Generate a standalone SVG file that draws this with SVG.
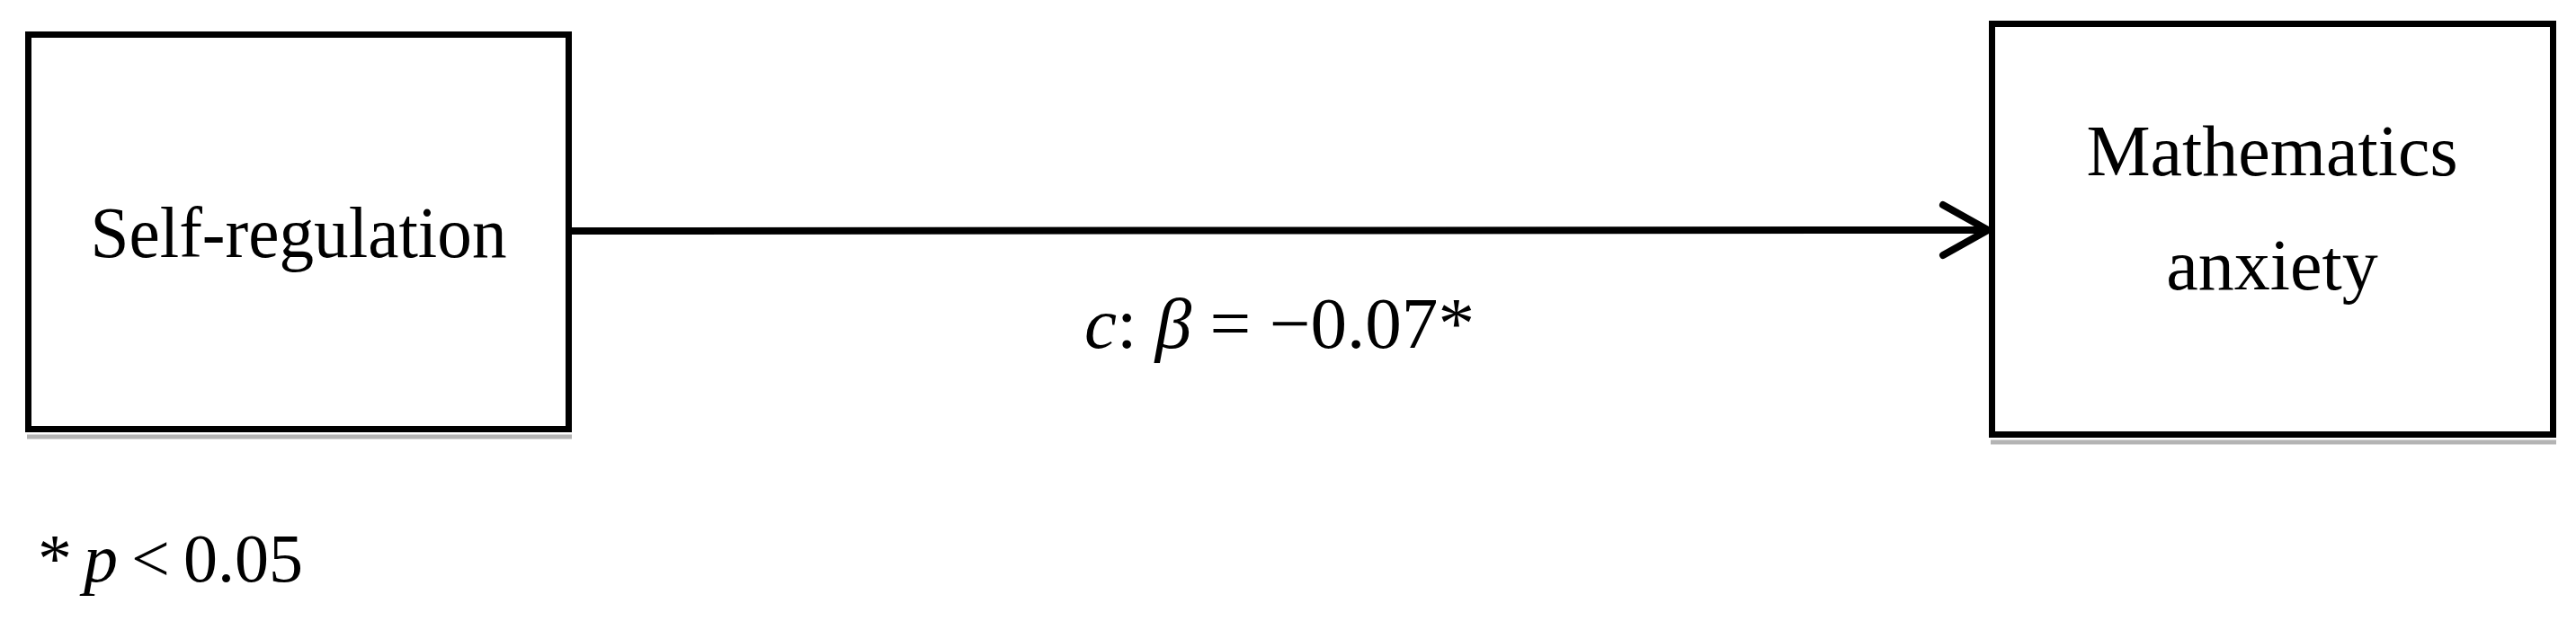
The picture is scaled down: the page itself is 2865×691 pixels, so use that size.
<svg xmlns="http://www.w3.org/2000/svg" width="2865" height="691" viewBox="0 0 2865 691">
<style>
.box{fill:#fff;stroke:#000;stroke-width:7}
.shadow{stroke:#b4b4b4;stroke-width:5}
.t{font-family:"Liberation Serif","Times New Roman",serif;font-size:80px;fill:#000}
.n{font-family:"Liberation Serif","Times New Roman",serif;font-size:76px;fill:#000}
.i{font-style:italic}
.edge{stroke:#000;stroke-width:8;fill:none}
</style>
<defs>
<marker id="arr" markerUnits="userSpaceOnUse" markerWidth="70" markerHeight="80" refX="60" refY="40" orient="auto">
<path d="M10,12 L60,40 L10,68" fill="none" stroke="#000" stroke-width="8" stroke-linecap="round" stroke-linejoin="miter"/>
</marker>
</defs>
<rect width="2865" height="691" fill="#fff"/>
<g id="connectors">
<line class="edge" x1="636" y1="257" x2="2211" y2="256" marker-end="url(#arr)"/>
<text class="t" x="1206" y="387" textLength="434" lengthAdjust="spacingAndGlyphs"><tspan class="i">c</tspan>:  <tspan class="i">β</tspan> = −0.07*</text>
</g>
<g id="self-regulation">
<line class="shadow" x1="30" y1="486" x2="636" y2="486"/>
<rect class="box" x="31.5" y="38.5" width="601" height="439"/>
<text class="t" x="332" y="286" text-anchor="middle" textLength="463" lengthAdjust="spacingAndGlyphs">Self-regulation</text>
</g>
<g id="mathematics-anxiety">
<line class="shadow" x1="2214" y1="492" x2="2843" y2="492"/>
<rect class="box" x="2215.5" y="26.5" width="624" height="457"/>
<text class="t" x="2527" y="195" text-anchor="middle">Mathematics</text>
<text class="t" x="2527" y="322" text-anchor="middle">anxiety</text>
</g>
<g id="note">
<text class="n" y="647"><tspan x="42">*</tspan><tspan x="93" class="i">p</tspan><tspan x="146">&lt;</tspan><tspan x="204">0.05</tspan></text>
</g>
</svg>
